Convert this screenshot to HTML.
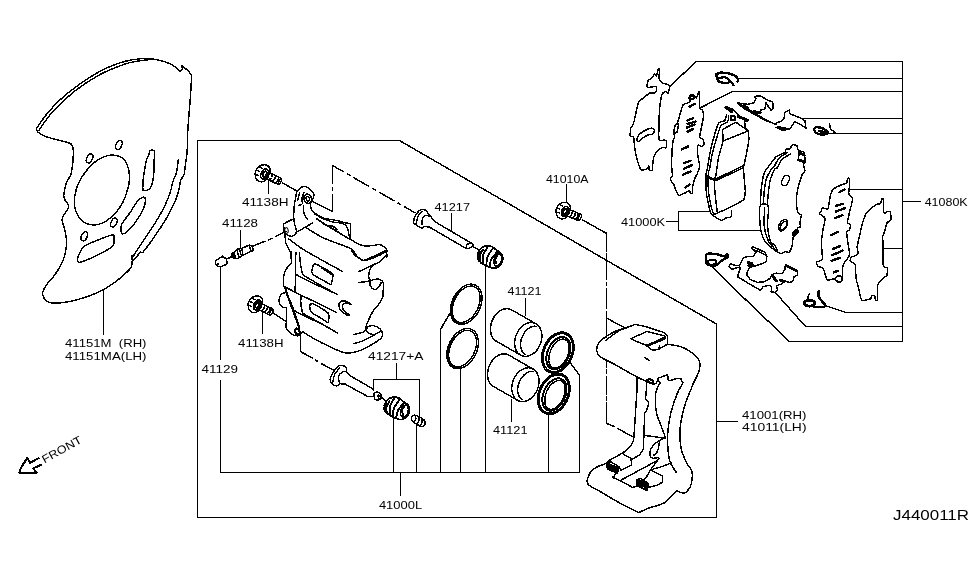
<!DOCTYPE html>
<html><head><meta charset="utf-8"><title>Front brake diagram</title>
<style>
html,body{margin:0;padding:0;background:#fff;}
body{width:975px;height:566px;overflow:hidden;font-family:"Liberation Sans",sans-serif;}
svg{display:block;position:absolute;left:0;top:0;will-change:transform}
svg text{font-family:"Liberation Sans",sans-serif;fill:#000;stroke:none;white-space:pre}
</style></head><body>
<svg width="975" height="566" viewBox="0 0 975 566">
<g shape-rendering="crispEdges" fill="none" stroke="#000" stroke-width="1.45" stroke-linecap="round" stroke-linejoin="round">
<text x="65" y="347" font-size="11.2" textLength="81.5" lengthAdjust="spacingAndGlyphs">41151M  (RH)</text>
<text x="65" y="360" font-size="11.2" textLength="81.5" lengthAdjust="spacingAndGlyphs">41151MA(LH)</text>
<text x="201.5" y="373" font-size="11.2" textLength="36.5" lengthAdjust="spacingAndGlyphs">41129</text>
<text x="242" y="205.6" font-size="11.2" textLength="46.5" lengthAdjust="spacingAndGlyphs">41138H</text>
<text x="222" y="226.8" font-size="11.2" textLength="36" lengthAdjust="spacingAndGlyphs">41128</text>
<text x="238" y="346.6" font-size="11.2" textLength="45.5" lengthAdjust="spacingAndGlyphs">41138H</text>
<text x="368" y="360" font-size="11.8" textLength="55.5" lengthAdjust="spacingAndGlyphs">41217+A</text>
<text x="378.9" y="509" font-size="11.2" textLength="43.3" lengthAdjust="spacingAndGlyphs">41000L</text>
<text x="434.5" y="211" font-size="11.2" textLength="35.5" lengthAdjust="spacingAndGlyphs">41217</text>
<text x="546" y="182.6" font-size="11.2" textLength="42.5" lengthAdjust="spacingAndGlyphs">41010A</text>
<text x="507.5" y="295" font-size="11.2" textLength="34" lengthAdjust="spacingAndGlyphs">41121</text>
<text x="493" y="434" font-size="11.2" textLength="34.5" lengthAdjust="spacingAndGlyphs">41121</text>
<text x="742" y="419" font-size="11.2" textLength="64.5" lengthAdjust="spacingAndGlyphs">41001(RH)</text>
<text x="742" y="431" font-size="11.2" textLength="64.5" lengthAdjust="spacingAndGlyphs">41011(LH)</text>
<text x="621" y="225.6" font-size="11.2" textLength="44" lengthAdjust="spacingAndGlyphs">41000K</text>
<text x="924.7" y="206" font-size="11.2" textLength="43" lengthAdjust="spacingAndGlyphs">41080K</text>
<text x="893" y="520" font-size="14.6" textLength="76" lengthAdjust="spacingAndGlyphs">J440011R</text>
<text transform="translate(44.6,463.4) rotate(-29)" x="0" y="0" font-size="11.2" textLength="43.5" lengthAdjust="spacingAndGlyphs">FRONT</text>
<path d="M38.7 458.2 L30 462.8 L27.4 457.7 L20.8 468 L19.2 472.6 L36.7 472.6 L33.1 468.5 L40.8 464.9" stroke-width="2"/>
<path d="M399.5 140.5 L197.5 140.5 L197.5 517.5 L716.5 517.5 L716.5 324 L399.5 140.5"/>
<path d="M716.5 421.5 L737 421.5"/>
<path d="M220.5 380.5 L220.5 472.5 L579.5 472.5 L579.5 375 L568.8 361"/>
<path d="M220.5 266.5 L220.5 359"/>
<path d="M393.5 417 L393.5 472.5"/>
<path d="M416.5 425 L416.5 472.5"/>
<path d="M400.5 472.5 L400.5 495"/>
<path d="M440.5 472.5 L440.5 329 L449.5 314"/>
<path d="M460.5 472.5 L460.5 367.5"/>
<path d="M485.5 472.5 L485.5 265"/>
<path d="M548.5 472.5 L548.5 415"/>
<path d="M396.5 364 L396.5 379.5"/>
<path d="M373.5 390 L373.5 379.5 L419.5 379.5 L419.5 418"/>
<path d="M103.5 290 L103.5 334"/>
<path d="M268.5 180.5 L268.5 193.5"/>
<path d="M240.5 231 L240.5 248"/>
<path d="M262.5 311.5 L262.5 333.5"/>
<path d="M451.5 214 L451.5 230"/>
<path d="M566.5 185 L566.5 202"/>
<path d="M525.5 299 L525.5 315"/>
<path d="M511.5 400 L511.5 421"/>
<path d="M667 221.5 L678.5 221.5"/>
<path d="M709.5 211.5 L678.5 211.5 L678.5 230.5 L760.5 230.5"/>
<path d="M669.5 87 L696 61.5 L902.5 61.5 L902.5 341.5 L789.5 341.5 L746 300 L711.5 266.3"/>
<path d="M737.5 78.5 L902.5 78.5"/>
<path d="M701 107.5 L732.5 91.5 L902.5 91.5"/>
<path d="M802.5 118.5 L902.5 118.5"/>
<path d="M836 133.5 L902.5 133.5"/>
<path d="M848.5 189.5 L902.5 189.5"/>
<path d="M883 248.5 L902.5 248.5"/>
<path d="M902.5 201.5 L920.5 201.5"/>
<path d="M825 305.5 L846 312.5 L902.5 312.5"/>
<path d="M775.4 292.6 L805.5 326.5 L902.5 326.5"/>
<path d="M36.3 128.8 C37.1 127.6 39 124.4 41.3 121.3 C43.6 118.2 46.5 114 50.1 110.1 C53.6 106.1 58.4 101.3 62.6 97.5 C66.7 93.8 70.9 90.7 75.1 87.5 C79.2 84.4 83.4 81.5 87.6 78.8 C91.8 76.1 95.9 73.5 100.1 71.3 C104.3 69.1 108.4 67.2 112.6 65.5 C116.8 63.8 120.5 62.4 125.1 61.3 C129.7 60.1 136 59.2 140.1 58.8 C144.3 58.3 146.8 58.5 150.2 58.8 C153.5 59.1 156.8 59.7 160.2 60.5 C163.5 61.3 167.5 62.5 170.2 63.8 C172.9 65 174.9 66.8 176.4 68 C177.9 69.2 178.7 70.5 179.2 71"/>
<path d="M178.2 69.5 L180.2 71.5 L182.7 69 L181.4 65.5"/>
<path d="M181.4 65.5 C182.4 66.3 185.5 68.4 187.2 70 C188.9 71.7 190.8 73.2 191.4 75.5 C192.1 77.8 191.4 79.7 191.2 83.8 C191 87.9 190.6 94.8 190.2 100.1 C189.8 105.3 189.4 109.6 188.9 115.1 C188.5 120.5 188 126.7 187.7 132.6 C187.4 138.4 187.5 145.1 187.2 150.1 C186.9 155.1 186.2 158.4 185.7 162.6 C185.1 166.8 184.8 172.2 183.9 175.1 C183.1 178 181.5 177.5 180.7 180 C179.8 182.5 179.8 186.5 178.9 190 C178 193.6 176.6 197.7 175.2 201.3 C173.7 204.8 172 207.7 170.2 211.3 C168.3 214.8 166.2 218.8 163.9 222.5 C161.6 226.3 158.9 230.1 156.4 233.8 C153.9 237.5 151.2 241.4 148.9 244.6 C146.6 247.7 143.7 251.2 142.6 252.6"/>
<path d="M142.6 252.6 L140.6 252.1 L132.1 261.6"/>
<path d="M132.1 255.1 C132 257 132.8 263.2 131.6 266.3 C130.5 269.5 127.5 271.5 125.1 273.8 C122.8 276.1 120.1 278.1 117.6 280.1 C115.1 282.1 112.6 283.9 110.1 285.6 C107.6 287.3 105.5 288.6 102.6 290.1 C99.7 291.6 95.9 293.3 92.6 294.6 C89.3 295.9 85.9 297.1 82.6 298.1 C79.2 299.2 76.3 300.1 72.6 300.9 C68.8 301.7 63.8 302.6 60.1 302.9 C56.3 303.2 52.5 303.1 50.1 302.6 C47.6 302.2 46.7 301.3 45.5 300.1 C44.4 299 43.5 297.1 43 295.6 C42.6 294.2 42.5 293.1 43 291.4 C43.6 289.6 44.7 287.4 46.3 285.1 C47.9 282.8 50.5 280.3 52.6 277.6 C54.6 274.9 57.1 271.8 58.8 268.8 C60.6 265.9 61.9 263 63.1 260.1 C64.2 257.2 65 254.2 65.6 251.3 C66.1 248.4 66.6 245.5 66.6 242.6 C66.6 239.6 66 236.5 65.6 233.8 C65.1 231.1 64.4 228.6 63.8 226.3 C63.2 224 62.1 221.9 62.1 220 C62.1 218.2 62.9 216.8 63.8 215 C64.7 213.3 66.8 211.2 67.6 209.5 C68.4 207.9 68.9 206.4 68.6 205 C68.2 203.6 66.4 202.7 65.6 201.3 C64.8 199.8 64 198.1 63.8 196.3 C63.6 194.4 64.1 192.4 64.6 190 C65 187.6 65.6 184.5 66.6 182 C67.6 179.5 69.6 177.9 70.6 175.1 C71.6 172.3 72.1 168.5 72.6 165.1 C73 161.8 73.2 157.9 73.3 155.1 C73.4 152.3 73.4 149.9 73.1 148.1 C72.7 146.3 72.2 145.1 71.1 144.1 C69.9 143.1 69 142.9 66.3 142.1 C63.6 141.3 58.8 140.4 55.1 139.3 C51.3 138.3 46.6 137 43.8 135.8 C41 134.6 39.3 133.2 38 132.1 C36.8 130.9 36.6 129.4 36.3 128.8"/>
<path d="M38.8 130.6 C41.1 127.5 46.5 118.4 52.6 111.8 C58.6 105.2 67.2 97 75.1 90.8 C83 84.6 91.8 79 100.1 74.5 C108.4 70.1 118.5 66.3 125.1 64 C131.8 61.7 135.6 61.6 140.1 60.8 C144.7 60 150.6 59.5 152.7 59.3"/>
<path d="M178.2 160.1 C177.9 162.2 177.2 169.3 176.4 172.6 C175.6 175.9 174.5 176.7 173.4 180 C172.4 183.3 171.5 188.3 170.2 192.5 C168.8 196.7 167.3 200.6 165.2 205 C163.1 209.4 160.4 214.2 157.7 218.8 C154.9 223.4 151.8 228.1 148.9 232.6 C146 237 142.6 241.8 140.1 245.6 C137.6 249.3 135.2 253 133.9 255.1 C132.5 257.2 132.4 257.6 132.1 258.1"/>
<path d="M112.6 155.1 C115.8 155.4 119.8 155.8 122.6 158.1 C125.5 160.4 126.9 163.6 128.1 167.6 C129.4 171.6 129.5 175.9 129.4 180 C129.2 184.1 128.5 186.1 127.4 190 C126.3 193.9 125.1 197.6 123.4 201.3 C121.6 204.9 120.2 207 117.9 210 C115.6 213 113.7 215.2 110.9 217.5 C108.1 219.9 106 221.7 102.6 223 C99.3 224.4 96.3 225.4 92.6 225 C88.9 224.7 85.6 223.6 82.6 221.3 C79.6 219 77.8 216 76.3 212.5 C74.8 209.1 74.4 206.7 74.3 202.5 C74.3 198.4 75 194.1 76.1 190 C77.1 185.9 78.4 183.2 80.1 180 C81.7 176.8 83.2 175.1 85.1 172.6 C86.9 170.1 87.8 168.7 90.1 166.4 C92.4 164.1 94.8 161.9 97.6 160.1 C100.4 158.3 102.4 157.3 105.1 156.4 C107.9 155.4 109.4 154.8 112.6 155.1 Z"/>
<ellipse cx="118.9" cy="145" rx="2.8" ry="4.8" transform="rotate(25 118.9 145)"/>
<ellipse cx="89.6" cy="158.4" rx="2.8" ry="4.8" transform="rotate(25 89.6 158.4)"/>
<ellipse cx="113.9" cy="222.5" rx="2.8" ry="4.8" transform="rotate(25 113.9 222.5)"/>
<ellipse cx="84.3" cy="236.3" rx="2.8" ry="4.8" transform="rotate(25 84.3 236.3)"/>
<path d="M150.2 150.4 C150.8 150 153.9 150 154.4 151.1 C154.9 152.2 154.2 157.3 154.2 160.1 C154.1 162.9 153.9 172.4 153.7 175.1 C153.4 177.9 152.6 181.9 152.2 183.5 C151.7 185.1 150.7 188.2 149.6 189 C148.6 189.8 143.9 191.5 143.1 190.5 C142.4 189.5 143 182.5 143.1 180.1 C143.3 177.8 144.3 172.5 144.6 170.1 C145 167.8 145.9 162 146.4 160.1 C146.9 158.2 148.7 155 149.1 153.9 C149.6 152.7 149.5 150.7 150.2 150.4 Z"/>
<path d="M140.1 198.8 C141.3 197.9 143.1 196.6 143.9 197 C144.7 197.4 146.2 198.6 145.6 201.3 C145.1 204 142.5 210.9 140.1 215 C137.8 219.2 132.8 226 130.1 228.8 C127.4 231.6 123.4 234.4 122.1 233.8 C120.8 233.2 120.2 228.2 121.4 225 C122.6 221.9 127.9 215.9 130.1 212.5 C132.4 209.2 134.9 204.6 136.4 202.5 C137.9 200.5 139 199.6 140.1 198.8 Z"/>
<path d="M85.1 245.6 C89.3 243.2 107.5 236 111.4 235.1 C115.2 234.2 113.6 237.4 113.9 238.8 C114.1 240.2 114.9 243.6 113.1 245.6 C111.3 247.6 104.4 251.6 100.1 253.8 C95.8 256 83.6 261.3 80.6 262.1 C77.6 262.8 77.6 260.8 77.6 259.6 C77.5 258.3 79.1 254.4 80.1 252.6 C81.1 250.7 80.9 247.9 85.1 245.6 Z"/>
<path d="M296.9 191.2 C297.9 190.4 301.2 187 303.1 186.5 C304.9 185.9 306.4 186.8 308.1 187.9 C309.8 189 312.1 191.5 313.1 192.9 C314.1 194.4 314.1 195.1 313.8 196.5 C313.6 197.9 312 200.5 311.7 201.3"/>
<path d="M296.9 191.2 C296.6 192.4 295.9 196 295.4 198.7 C295 201.3 294.4 204.4 294.1 207.3 C293.9 210.2 293.7 213.5 293.7 215.9 C293.7 218.3 293.8 219.5 294.1 221.6 C294.5 223.8 295.4 227.1 295.9 228.8 C296.3 230.5 296.7 231.5 296.9 232"/>
<path d="M299.5 193.2 L297.7 200.1"/>
<path d="M304.1 192.6 C303.7 193.6 302 196.8 301.8 198.7 C301.5 200.5 302.8 202.6 302.3 203.7 C301.9 204.8 299.5 205 298.9 205.3"/>
<ellipse cx="307.8" cy="198.7" rx="3.7" ry="4.7" transform="rotate(-20 307.8 198.7)"/>
<ellipse cx="307.8" cy="198.7" rx="1.7" ry="2.4" transform="rotate(-20 307.8 198.7)"/>
<path d="M311.7 201.3 L332.5 211.3"/>
<path d="M311 201.5 C310.9 202.5 310.2 205.5 310.7 207.3 C311.1 209.1 311.9 210.6 313.8 212.3 C315.8 214 320 216.5 322.4 217.6 C324.8 218.7 325.8 218.6 328.2 219.1 C330.6 219.5 333.9 219.9 336.8 220.5 C339.7 221.1 343.1 222.2 345.4 222.8 C347.7 223.3 349.8 223.6 350.7 223.8"/>
<path d="M350.7 223.8 L350.7 239.6"/>
<path d="M303.8 205.8 C303.7 206.7 303.2 209.2 303.5 210.9 C303.7 212.5 304.5 214.5 305.2 215.9 C305.9 217.3 307.2 218.8 307.6 219.3"/>
<path d="M314.5 213.7 C315.9 214.5 319.4 217.1 322.4 218.5 C325.4 219.8 329.1 221.1 332.5 221.9 C335.8 222.7 340.1 222.5 342.5 223.4 C345 224.3 346 225 347.1 227.4 C348.3 229.7 349.1 235.8 349.4 237.4"/>
<path d="M316.7 218.8 C318.1 219.7 322.4 222.7 325.3 224.5 C328.2 226.3 331.5 228.1 333.9 229.5 C336.3 231 338.7 232.5 339.7 233.1" stroke-width="1.9"/>
<path d="M326.7 225.7 C327.7 225.8 330.7 225.6 332.5 226.2 C334.3 226.9 336.7 229 337.5 229.5" stroke-width="1.5"/>
<path d="M322.4 223.1 C324.1 224 328.7 226.5 332.5 228.8 C336.3 231.1 342.4 234.9 345.4 236.7 C348.5 238.5 349.8 239.1 350.7 239.6"/>
<path d="M294.1 221.6 C294.1 221.5 293.7 218.9 293 219.1 C292.3 219.2 284.3 223.5 283.7 223.8"/>
<path d="M283.7 223.8 C283.8 224.9 283.7 230.8 284.4 232.4 C285.1 234 287.5 235.2 288.7 235.7 C289.8 236.2 291.9 236.5 293 236 C294.1 235.5 296.4 232.5 296.9 232"/>
<ellipse cx="286.5" cy="230.5" rx="1.7" ry="2.9" transform="rotate(-10 286.5 230.5)" stroke-width="1"/>
<path d="M296.9 232 L312.4 223.1"/>
<path d="M306.6 228.1 C309.3 229.7 317.4 234.9 322.4 237.4 C327.5 240 332 241.3 336.8 243.2 C341.6 245.1 347.8 246.8 351.2 248.9 C354.5 251.1 355 254.2 356.9 256.1 C358.8 258 361.7 259.7 362.6 260.4"/>
<path d="M350.7 239.6 C352.2 240.4 357.3 243.5 359.8 244.6 C362.2 245.7 363.1 245.9 365.5 246.1 C367.9 246.2 371.7 245.6 374.1 245.3 C376.5 245.1 378.1 244.3 379.9 244.6 C381.7 245 383.8 246.5 384.9 247.5 C386.1 248.4 386.5 248.7 386.8 250.4 C387 252 386.3 256.9 386.3 257.5 C386.3 258.2 387.8 253.7 386.8 254.3 C385.7 255 382.2 259.7 379.9 261.5 C377.5 263.3 376.2 263.4 372.7 265.1 C369.2 266.8 361.3 270.5 359.1 271.5"/>
<path d="M364.1 260.4 C365.8 259.7 370.4 257.8 374.1 256.1 C377.8 254.4 384.3 251.3 386.3 250.4"/>
<path d="M285.1 234.6 C285.2 236 285 240.3 285.8 243.2 C286.7 246.1 289.3 249.5 290.1 251.8 C291 254.1 290.6 255.3 290.8 257.2 C291.1 259 292.3 261 291.6 262.9 C290.8 264.8 287.9 266.5 286.5 268.7 C285.2 270.8 284.2 273 283.7 275.8 C283.1 278.7 283.4 284.2 283.4 285.9"/>
<path d="M288.7 238.9 C291 240.5 296.7 245.3 302.3 248.9 C308 252.5 315.7 256.6 322.4 260.4 C329.1 264.2 339.2 269.7 342.5 271.5"/>
<path d="M291.6 251.8 L291.6 262.9"/>
<path d="M295.9 252.5 L295.4 267.2 L295.2 291.6"/>
<path d="M299.5 253.2 C299.6 254.6 299.8 258.7 300.2 261.5 C300.5 264.3 301.1 267.8 301.6 270.1 C302.1 272.4 302.8 274.3 303.1 275.1"/>
<path d="M303.1 275.1 L325.3 288.1 L337.5 294.5"/>
<path d="M295.9 274.4 L302.3 278 L322.4 287.6 L336.8 294.2"/>
<path d="M313.8 264.4 C314.5 263.7 316.3 264.1 318.1 265.1 C320 266 331.1 272 332.5 273.7 C333.9 275.4 332 281.2 331.8 282.3 C331.6 283.4 331 284.5 330.3 284.5 C329.7 284.4 327 282.5 325.3 281.6 C323.7 280.7 315.2 276.1 313.8 275.1 C312.5 274.1 311.7 272.6 311.7 271.5 C311.7 270.5 313.2 265 313.8 264.4 Z"/>
<path d="M322.4 267.9 L332.5 274.4" stroke-width="2.5"/>
<path d="M351.2 250 C351.9 251 353.6 254.1 355.5 255.7 C357.4 257.4 360.3 259.5 362.6 260.1 C365 260.7 367 260.2 369.8 259.3 C372.7 258.5 377.1 256.3 379.9 255 C382.6 253.7 385.3 252 386.3 251.4"/>
<path d="M372.7 265.1 C372.2 265.9 370.5 268.2 369.8 270.1 C369.2 272 368.6 274.8 368.7 276.6 C368.8 278.4 370.2 280.2 370.5 280.9"/>
<path d="M370.5 280.9 L358.3 282.7"/>
<path d="M370.5 280.9 C371.1 280.6 372.6 279.7 374.1 279.4 C375.7 279.2 378.3 278.8 379.9 279.4 C381.4 280 382.9 281 383.5 283 C384 285.1 383.2 289.2 383 291.6 C382.9 294 383.5 295.2 382.7 297.4 C382 299.5 380.1 302.2 378.4 304.6 C376.8 307 374.4 309.1 372.7 311.7 C371 314.4 369.5 318 368.4 320.4 C367.3 322.8 366.6 324.6 366.2 326.1 C365.9 327.6 365.9 328.2 366.2 329.4 C366.6 330.5 367.4 332.1 368.4 333 C369.3 333.8 371.4 334.2 372 334.4"/>
<path d="M370.5 280.9 C370.4 281.5 369.6 283.3 369.8 284.5 C370.1 285.7 371 287.2 372 288.1 C372.9 288.9 374.3 290 375.6 289.5 C376.9 289 378.9 286.4 379.9 285.2 C380.8 284 381.1 282.8 381.3 282.3"/>
<path d="M283.4 285.9 L284.4 286.6 L300.9 295.2 L322.4 305.3 L336.8 312.5"/>
<path d="M300.9 295.2 C300.9 296.8 300.6 301.6 300.9 304.6 C301.2 307.6 302.3 311.7 302.6 313.2"/>
<path d="M302.6 313.2 L328.2 327.5 L337.5 333"/>
<path d="M285.1 288.1 L290.8 304.6 L299.5 328.3" stroke-width="2"/>
<path d="M286.5 293.1 L293.7 310.3 L299.5 328.3" stroke-width="2"/>
<path d="M286.5 292.4 C285.7 292.6 283.7 292.8 282.2 293.8 C280.8 294.8 279.9 295.4 279.4 297.4 C278.8 299.4 278.8 301.8 279.6 303.8 C280.5 305.9 282 306.7 283.4 307.4 C284.8 308.2 285.9 307.4 286.5 307.4"/>
<path d="M286.5 307.4 L286.5 316.1 L286.3 322.9 L285.8 327.2"/>
<path d="M310.2 304.6 C310.7 304 312.7 303.4 314.5 304.3 C316.3 305.1 326.8 311.4 328.2 313.2 C329.5 315 328.8 321.9 328.2 322.5 C327.6 323.1 324 319.9 322.4 318.9 C320.9 318 313.6 314.1 312.4 313.2 C311.2 312.2 310.4 310.5 310.2 309.6 C310 308.7 309.8 305.1 310.2 304.6 Z"/>
<path d="M351.2 304.3 C350.1 303.7 346.5 301.4 344.7 301 C342.9 300.5 341.3 300.9 340.4 301.7 C339.4 302.5 338.8 304.4 339 306 C339.1 307.6 339.9 309.6 341.1 311 C342.3 312.5 344.8 313.9 346.1 314.6 C347.4 315.3 348.5 315.2 349 315.3"/>
<path d="M351.2 304.3 C350.2 304.1 346.8 303 345.4 303.1 C344 303.3 342.9 304.2 342.5 305.3 C342.2 306.4 342.2 308 343.3 309.6 C344.3 311.1 348 313.8 349 314.6"/>
<path d="M285.8 327.2 C286.3 327.9 287.4 330.2 288.7 331.5 C290 332.9 292 334.5 293.7 335.1 C295.4 335.8 297.3 336 298.7 335.6 C300.2 335.1 301.7 332.8 302.3 332.3"/>
<ellipse cx="297.3" cy="331.5" rx="2.2" ry="3" transform="rotate(-20 297.3 331.5)" stroke-width="2.2"/>
<path d="M302.3 331.5 C304.5 332.9 310.7 336.9 315.3 339.4 C319.8 342 325.3 344.6 329.6 346.6 C333.9 348.7 338.1 350.6 341.1 351.6 C344.1 352.7 344.9 353.1 347.6 353.1 C350.2 353.1 353.9 352.5 356.9 351.6 C359.9 350.8 362.4 349.6 365.5 348.1 C368.6 346.5 372.9 344 375.6 342.3 C378.2 340.6 380.2 339.4 381.3 338 C382.5 336.6 382.7 335.2 382.5 333.7 C382.2 332.1 381.3 330 379.9 328.7 C378.5 327.4 376 326.2 374.1 325.8 C372.2 325.4 369.7 325.9 368.4 326.5 C367.1 327.1 366.6 328.9 366.2 329.4"/>
<path d="M354 334.4 C355.5 334.1 360.6 333 362.6 332.3 C364.7 331.5 365.6 330.5 366.2 330.1"/>
<path d="M354 343.7 C355.5 343.3 359.5 342.2 362.6 340.9 C365.8 339.6 369.8 337.4 372.7 335.8 C375.6 334.3 378.7 332.3 379.9 331.5"/>
<path d="M293.7 310 L299.5 313.6 L322.4 324.4 L337.5 333"/>
<path d="M332.5 165.5 L332.5 212" stroke-linecap="butt" stroke-dasharray="18 3 4.5 3"/>
<path d="M332.5 165.5 L415.4 213" stroke-linecap="butt" stroke-dasharray="18 3.5 4.2 3.5" stroke-dashoffset="5"/>
<path d="M300.5 335.8 L300.5 351.6 L312.4 358.1"/>
<path d="M315.3 360 L317.4 361.3"/>
<path d="M321.7 363.8 L334 370.3"/>
<path d="M265 164.8 C266.6 164.9 268.7 166.3 269.4 167.4 C270.2 168.5 270.3 170.6 269.9 172.4 C269.4 174.2 267.7 177.9 266.5 179.3 C265.3 180.8 263.2 181.7 261.8 181.8 C260.4 181.9 258 181.1 257 180 C256 178.9 255.2 175.8 255.1 174.3 C254.9 172.8 255.6 171.2 256.2 170 C256.7 168.9 257.5 167.3 258.8 166.5 C260.2 165.7 263.4 164.6 265 164.8 Z"/>
<path d="M258.8 166.5 L262 168.5"/>
<path d="M256.2 170 L259.2 171.5"/>
<path d="M255.1 174.3 L258.6 175.5"/>
<ellipse cx="264.6" cy="174.1" rx="3.5" ry="5.3" transform="rotate(25.9 264.6 174.1)" stroke-width="1.8"/>
<ellipse cx="264.6" cy="174.1" rx="1.7" ry="2.9" transform="rotate(25.9 264.6 174.1)" stroke-width="1.9"/>
<path d="M268.9 172.4 L281.4 178.5"/>
<path d="M265.4 178.3 L278.4 184.6"/>
<ellipse cx="279.9" cy="181.6" rx="1.1" ry="3.4" transform="rotate(25.9 279.9 181.6)"/>
<path d="M268.8 180 C269.3 179.5 270.9 178.5 271.5 177.5 C272 176.5 272.1 174.6 272.2 174"/>
<path d="M272 181.5 C272.5 181.1 274.1 180 274.7 179 C275.2 178 275.3 176.2 275.4 175.6"/>
<path d="M275.2 183.1 C275.7 182.7 277.3 181.6 277.9 180.6 C278.5 179.6 278.5 177.7 278.6 177.1"/>
<path d="M282.5 182.8 L296.8 191"/>
<path d="M257.8 296 C259.4 296.1 261.4 297.4 262.1 298.6 C262.8 299.7 262.9 301.7 262.5 303.4 C262 305.2 260.3 308.8 259.1 310.2 C257.9 311.6 255.9 312.5 254.5 312.6 C253.2 312.7 250.9 311.9 249.9 310.8 C248.9 309.7 248.1 306.6 248 305.2 C247.9 303.7 248.6 302.2 249.1 301.1 C249.7 299.9 250.4 298.4 251.7 297.7 C253 296.9 256.3 295.8 257.8 296 Z"/>
<path d="M251.7 297.7 L254.8 299.6"/>
<path d="M249.1 301.1 L252.1 302.5"/>
<path d="M248 305.2 L251.4 306.4"/>
<ellipse cx="257.3" cy="305.1" rx="3.4" ry="5.2" transform="rotate(26.3 257.3 305.1)" stroke-width="1.8"/>
<ellipse cx="257.3" cy="305.1" rx="1.7" ry="2.9" transform="rotate(26.3 257.3 305.1)" stroke-width="1.9"/>
<path d="M261.6 303.4 L272.9 309"/>
<path d="M258.1 309.3 L269.9 315.1"/>
<ellipse cx="271.4" cy="312.1" rx="1.1" ry="3.4" transform="rotate(26.3 271.4 312.1)"/>
<path d="M261.2 310.8 C261.7 310.4 263.3 309.3 263.9 308.3 C264.5 307.4 264.5 305.5 264.6 304.9"/>
<path d="M264 312.2 C264.5 311.8 266.2 310.7 266.7 309.7 C267.3 308.8 267.3 306.9 267.4 306.3"/>
<path d="M266.9 313.6 C267.3 313.2 269 312.1 269.6 311.1 C270.1 310.2 270.1 308.3 270.3 307.7"/>
<path d="M273.5 313.2 L286 321.4"/>
<path d="M565.2 202.3 C566.7 202.3 568.8 203.5 569.6 204.6 C570.3 205.7 570.5 207.6 570.2 209.4 C569.8 211.1 568.3 214.8 567.2 216.2 C566.1 217.7 564.1 218.7 562.8 218.8 C561.4 219 559.1 218.3 558.1 217.3 C557.1 216.2 556.2 213.2 556 211.8 C555.8 210.4 556.4 208.8 556.9 207.7 C557.4 206.5 558 205 559.3 204.2 C560.5 203.4 563.7 202.2 565.2 202.3 Z"/>
<path d="M559.3 204.2 L562.4 206"/>
<path d="M556.9 207.7 L559.9 209"/>
<path d="M556 211.8 L559.4 212.9"/>
<ellipse cx="565.2" cy="211.3" rx="3.4" ry="5.1" transform="rotate(23.5 565.2 211.3)" stroke-width="1.8"/>
<ellipse cx="565.2" cy="211.3" rx="1.6" ry="2.8" transform="rotate(23.5 565.2 211.3)" stroke-width="1.9"/>
<path d="M569.3 209.4 L581 214.5"/>
<path d="M566.1 215.4 L578.3 220.7"/>
<ellipse cx="579.7" cy="217.6" rx="1.1" ry="3.4" transform="rotate(23.5 579.7 217.6)"/>
<path d="M569.3 216.8 C569.7 216.4 571.3 215.2 571.8 214.2 C572.4 213.2 572.3 211.3 572.4 210.7"/>
<path d="M572.3 218.1 C572.7 217.6 574.3 216.5 574.8 215.5 C575.3 214.5 575.2 212.6 575.3 212"/>
<path d="M575.2 219.4 C575.6 218.9 577.3 217.8 577.8 216.8 C578.3 215.8 578.2 213.9 578.3 213.3"/>
<path d="M582.2 219.7 L606.5 233.4"/>
<ellipse cx="233.7" cy="255.8" rx="1" ry="2.6" transform="rotate(-23 233.7 255.8)" stroke-width="2.2"/>
<path d="M233.2 252.9 L237.8 249.1 L241.9 248.4 L249.1 245.1 L252 245.5"/>
<path d="M234.7 258.4 L238 258.3 L242.4 255.5 L250.8 251.4"/>
<path d="M237 249.9 L238.8 257.8"/>
<path d="M239.5 249.4 L241.5 256.1"/>
<path d="M241.9 248.4 L242.7 254.9"/>
<ellipse cx="251.4" cy="248.3" rx="1.3" ry="3" transform="rotate(-23 251.4 248.3)"/>
<path d="M227.1 258.8 L232.5 256.4"/>
<path d="M253.2 246 L265 241.2"/>
<path d="M268.3 240.2 L271.9 238.3"/>
<path d="M275.6 236.3 L286 231.2"/>
<path d="M215.3 262.9 C215.2 262.4 215.5 261.1 216.3 260.4 C217.1 259.7 220.8 257.2 221.9 257 C223.1 256.8 225.5 258 226 258.8 C226.6 259.7 227.4 263.1 226.7 264 C226.1 264.9 221.5 266.4 220.4 266.5 C219.2 266.7 217.4 265.9 216.8 265.5 C216.2 265.1 215.3 263.5 215.3 262.9 Z"/>
<path d="M221.9 256.8 L222.6 255.8 L223.7 257.4"/>
<path d="M217.5 263.6 L218.1 264" stroke-width="2"/>
<path d="M423.7 226.5 C423.4 226.7 422.6 228.2 422 228.2 C421.3 228.2 419.5 227.1 418.6 226.5 C417.6 225.9 415.3 224.3 414.6 223.7 C413.9 223.1 413.4 222.9 413.5 222 C413.6 221 414.4 217.8 415.2 216.3 C415.9 214.8 418.2 211.6 419.1 210.7 C420.1 209.7 421.7 209.4 422.5 209.3 C423.4 209.2 425 210 425.4 210.1"/>
<path d="M416.3 223.1 C416.6 222 417.1 218.3 418 216.3 C418.9 214.3 421.3 212.1 422 211.2"/>
<path d="M425.4 210.1 C425.9 210.7 428.1 213.1 429.3 214.6 C430.5 216.1 433.7 220.5 434.4 221.4"/>
<path d="M434.4 221.4 L471.7 243.4"/>
<path d="M422 224.8 C422.1 223.7 421.9 220.1 422.5 218.6 C423.2 217 424.8 215.8 425.9 215.4 C427 215 428.7 216.2 429.3 216.3"/>
<path d="M423.7 226.5 L429.3 227 L466.1 248.5 L468.3 248.5"/>
<path d="M468.3 248.5 C468.9 248.2 472.3 246.6 472.8 245.9 C473.4 245.2 472.6 243.8 472.3 243.4 C471.9 243.1 470.7 243 470 243.2 C469.3 243.4 467.4 244.2 467 244.8 C466.5 245.4 466.7 247.5 466.6 248"/>
<path d="M472.8 246.8 L479.1 249.7"/>
<path d="M339.7 383.7 C339.2 384 337.4 385.9 336.3 385.9 C335.3 385.9 332.6 384.5 331.8 383.7 C331 382.8 329.9 381.1 330.1 379.7 C330.2 378.3 331.9 374.6 332.9 372.9 C333.9 371.2 336.2 367.7 337.4 366.7 C338.6 365.7 340.8 365.5 342 365.6 C343.1 365.6 345.3 366.5 345.9 367.3 C346.5 368 346.4 370.7 346.5 371.2"/>
<path d="M332.9 382 C333.2 380.7 333.5 377 334.6 374.6 C335.7 372.3 338.8 369 339.7 367.8"/>
<path d="M339.1 382 C339.1 381.2 338.2 377.6 338.6 376.3 C338.9 375 340.9 373 342 372.3 C343 371.7 345.3 371.3 346.5 371.8 C347.7 372.3 350.4 375.7 351 376.3"/>
<path d="M351 376.3 L373.6 389.3"/>
<path d="M339.7 383.7 L345.4 384.2 L368 396.7 L373.6 396.7"/>
<path d="M374.2 393.3 C374.6 392.4 377.2 391.9 378.1 392.1 C379 392.4 380.6 394.1 381 395 C381.3 395.8 381.4 397.7 381 398.4 C380.5 399 378.4 400 377.6 400 C376.7 400.1 375.2 399.8 374.7 398.9 C374.3 398 373.7 394.2 374.2 393.3 Z"/>
<ellipse cx="379.5" cy="397.2" rx="1" ry="2.4" transform="rotate(-25 379.5 397.2)"/>
<path d="M381 397.2 L386.6 401.7"/>
<path d="M478.2 252.6 C478.9 251 480.4 248.9 481.8 247.8 C483.2 246.7 485.2 246 486.9 245.8 C488.6 245.6 490.3 245.9 491.9 246.6 C493.5 247.3 494.8 248.8 496.4 250 C498 251.2 500.5 252.5 501.6 254 C502.6 255.5 502.8 257.5 502.7 259.1 C502.6 260.8 502.2 262.5 501.3 263.9 C500.4 265.3 498.5 266.8 497.1 267.5 C495.7 268.2 494.7 268.4 493.1 268.2 C491.5 268 489.2 267 487.5 266.2 C485.8 265.4 484.1 264.5 482.7 263.6 C481.3 262.7 479.8 261.8 479 260.8 C478.2 259.8 478 258.9 477.9 257.5 C477.8 256.1 477.5 254.2 478.2 252.6 Z" stroke-width="1.8"/>
<path d="M480.7 262.7 C480.5 261.6 479.3 258.1 479.7 256 C480.1 253.8 482.4 250.8 483 249.8" stroke-width="1.9"/>
<path d="M483.6 264 C483.5 262.5 482.5 257.8 483.2 255 C483.9 252.2 486.8 248.7 487.5 247.4" stroke-width="1.9"/>
<path d="M486.4 265 C486.6 263.7 486.3 259.8 487.4 257 C488.5 254.2 491.9 249.8 492.8 248.4" stroke-width="1.9"/>
<path d="M489.7 266 C490 264.8 490.1 261.3 491.4 259 C492.6 256.7 496.2 253.2 497.2 252" stroke-width="1.9"/>
<ellipse cx="497.8" cy="260" rx="3.7" ry="6.2" transform="rotate(18 497.8 260)" stroke-width="1.6"/>
<path d="M496.5 263.5 C496.3 262.8 495.1 260.8 495.2 259.5 C495.3 258.2 497 256.2 497.4 255.5" stroke-width="1.9"/>
<path d="M479.6 252 C479.3 252.8 477.7 255.5 477.6 257 C477.5 258.5 478.9 260.3 479.2 261" stroke-width="2.2"/>
<path d="M384.8 403.9 C385.5 402.3 387 400.2 388.4 399.1 C389.9 398 391.8 397.3 393.5 397.1 C395.2 396.9 396.9 397.2 398.5 397.9 C400.1 398.6 401.4 400.1 403 401.3 C404.6 402.5 407.1 403.8 408.2 405.3 C409.2 406.8 409.4 408.8 409.3 410.4 C409.2 412.1 408.8 413.8 407.9 415.2 C407 416.6 405.1 418.1 403.7 418.8 C402.3 419.5 401.3 419.7 399.7 419.5 C398.1 419.3 395.8 418.3 394.1 417.5 C392.4 416.7 390.7 415.8 389.3 414.9 C387.9 414 386.4 413.1 385.6 412.1 C384.8 411.1 384.6 410.2 384.5 408.8 C384.4 407.4 384.1 405.5 384.8 403.9 Z" stroke-width="1.8"/>
<path d="M387.3 414 C387.1 412.9 385.9 409.4 386.3 407.3 C386.7 405.2 389.1 402.1 389.6 401.1" stroke-width="1.9"/>
<path d="M390.2 415.3 C390.1 413.8 389.1 409.1 389.8 406.3 C390.5 403.5 393.4 400 394.1 398.7" stroke-width="1.9"/>
<path d="M393 416.3 C393.2 415 392.9 411.1 394 408.3 C395.1 405.5 398.5 401.1 399.4 399.7" stroke-width="1.9"/>
<path d="M396.3 417.3 C396.6 416.1 396.8 412.6 398 410.3 C399.2 408 402.8 404.5 403.8 403.3" stroke-width="1.9"/>
<ellipse cx="404.4" cy="411.3" rx="3.7" ry="6.2" transform="rotate(18 404.4 411.3)" stroke-width="1.6"/>
<path d="M403.1 414.8 C402.9 414.1 401.7 412.1 401.8 410.8 C401.9 409.5 403.6 407.5 404 406.8" stroke-width="1.9"/>
<path d="M386.2 403.3 C385.9 404.1 384.3 406.8 384.2 408.3 C384.1 409.8 385.5 411.6 385.8 412.3" stroke-width="2.2"/>
<path d="M411.5 418.1 C411.6 417.3 413 415.6 413.8 415.3 C414.5 415 415.7 415.2 417.1 415.9 C418.6 416.6 423.4 419.3 424.5 420.4 C425.5 421.5 425.3 423 425.1 423.8 C424.8 424.6 423.5 426.3 422.8 426.6 C422.1 426.9 421.3 426.7 420 426.1 C418.6 425.4 413.8 422.6 412.6 421.5 C411.5 420.5 411.3 419 411.5 418.1 Z"/>
<path d="M415.4 415.9 C415.5 416.4 416 417.9 415.8 419 C415.6 420 414.6 421.6 414.3 422.1"/>
<path d="M418.8 417.6 C418.8 418.1 419.2 419.6 418.9 420.7 C418.6 421.7 417.4 423.3 417.1 423.8"/>
<path d="M422 419.3 C422 419.8 422.4 421.3 422.2 422.4 C421.9 423.4 420.8 425 420.5 425.5"/>
<ellipse cx="466.2" cy="304.3" rx="14.2" ry="21.3" transform="rotate(26 466.2 304.3)"/>
<ellipse cx="466.2" cy="304.3" rx="12.3" ry="19.4" transform="rotate(26 466.2 304.3)"/>
<path d="M464.4 323 L463.2 323.3 L462.1 323.4 L460.9 323.4 L459.8 323.3 L458.7 323.1 L457.7 322.7 L456.8 322.3 L455.9 321.7 L455 320.9 L454.3 320.1 L453.6 319.2 L453 318.2 L452.5 317 L452.1 315.8 L451.8 314.6 L451.5 313.2 L451.4 311.8 L451.4 310.3 L451.4 308.8 L451.6 307.3 L451.9 305.8 L452.2 304.2 L452.7 302.7 L453.2 301.1 L453.8 299.6 L454.5 298.1 L455.3 296.6 L456.2 295.2 L457.1 293.9 L458.1 292.6" stroke-width="2"/>
<ellipse cx="462.6" cy="348.6" rx="14.2" ry="21.3" transform="rotate(26 462.6 348.6)"/>
<ellipse cx="462.6" cy="348.6" rx="12.3" ry="19.4" transform="rotate(26 462.6 348.6)"/>
<path d="M460.8 367.3 L459.6 367.6 L458.5 367.7 L457.3 367.7 L456.2 367.6 L455.1 367.4 L454.1 367 L453.2 366.6 L452.3 366 L451.4 365.2 L450.7 364.4 L450 363.5 L449.4 362.5 L448.9 361.3 L448.5 360.1 L448.2 358.9 L447.9 357.5 L447.8 356.1 L447.8 354.6 L447.8 353.1 L448 351.6 L448.3 350.1 L448.6 348.5 L449.1 347 L449.6 345.4 L450.2 343.9 L450.9 342.4 L451.7 340.9 L452.6 339.5 L453.5 338.2 L454.5 336.9" stroke-width="2"/>
<path d="M450.1 313.3 L440.8 329"/>
<ellipse cx="528.3" cy="339.5" rx="12.9" ry="17.5" transform="rotate(22 528.3 339.5)"/>
<path d="M525.1 354.3 L524.2 353.7 L523.5 353 L522.8 352.2 L522.2 351.3 L521.7 350.3 L521.2 349.2 L520.9 348 L520.7 346.7 L520.6 345.4 L520.6 344 L520.7 342.6 L520.9 341.2 L521.2 339.7 L521.7 338.3 L522.2 336.9 L522.8 335.6 L523.5 334.3 L524.2 333 L525.1 331.8 L526 330.8 L526.9 329.8 L527.9 328.9 L529 328.1 L530 327.5 L531.1 327 L532.2 326.6 L533.2 326.3 L534.3 326.2 L535.3 326.3 L536.3 326.5"/>
<path d="M536.1 323.9 L511.9 310"/>
<path d="M520.5 355.1 L496.3 341.2"/>
<path d="M511.9 310 L511.7 309.9 L511.5 309.8 L511.3 309.6 L511.1 309.6 L510.9 309.5 L510.7 309.4 L510.4 309.3 L510.2 309.2 L510 309.1 L509.8 309.1 L509.6 309 L509.4 309 L509.1 308.9 L508.9 308.9 L508.7 308.8 L508.5 308.8 L508.3 308.8 L508 308.7 L507.8 308.7 L507.6 308.7 L507.3 308.7 L507.1 308.7 L506.9 308.7 L506.6 308.7 L506.4 308.7 L506.2 308.7 L505.9 308.7 L505.7 308.7 L505.5 308.8 L505.2 308.8 L505 308.9 L504.7 308.9 L504.5 308.9 L504.3 309 L504 309.1 L503.8 309.1 L503.6 309.2 L503.3 309.3 L503.1 309.4 L502.8 309.4 L502.6 309.5 L502.4 309.6 L502.1 309.7 L501.9 309.8 L501.7 309.9 L501.4 310.1 L501.2 310.2 L501 310.3 L500.7 310.4 L500.5 310.6 L500.3 310.7 L500.1 310.9 L499.8 311 L499.6 311.2 L499.4 311.3 L499.2 311.5 L498.9 311.6 L498.7 311.8 L498.5 312 L498.3 312.2 L498.1 312.3 L497.9 312.5 L497.6 312.7 L497.4 312.9 L497.2 313.1 L497 313.3 L496.8 313.5 L496.6 313.7 L496.4 313.9 L496.2 314.1 L496 314.4 L495.8 314.6 L495.7 314.8 L495.5 315 L495.3 315.3 L495.1 315.5 L494.9 315.7 L494.8 316 L494.6 316.2 L494.4 316.5 L494.2 316.7 L494.1 317 L493.9 317.2 L493.8 317.5 L493.6 317.8 L493.5 318 L493.3 318.3 L493.2 318.6 L493 318.8 L492.9 319.1 L492.8 319.4 L492.6 319.6 L492.5 319.9 L492.4 320.2 L492.3 320.5 L492.1 320.8 L492 321.1 L491.9 321.3 L491.8 321.6 L491.7 321.9 L491.6 322.2 L491.5 322.5 L491.4 322.8 L491.3 323.1 L491.3 323.4 L491.2 323.7 L491.1 324 L491 324.2 L491 324.5 L490.9 324.8 L490.9 325.1 L490.8 325.4 L490.7 325.7 L490.7 326 L490.7 326.3 L490.6 326.6 L490.6 326.9 L490.6 327.2 L490.5 327.5 L490.5 327.8 L490.5 328.1 L490.5 328.4 L490.5 328.7 L490.5 329 L490.5 329.2 L490.5 329.5 L490.5 329.8 L490.5 330.1 L490.5 330.4 L490.5 330.7 L490.5 330.9 L490.6 331.2 L490.6 331.5 L490.6 331.8 L490.7 332.1 L490.7 332.3 L490.8 332.6 L490.8 332.9 L490.9 333.1 L490.9 333.4 L491 333.7 L491.1 333.9 L491.1 334.2 L491.2 334.4 L491.3 334.7 L491.4 334.9 L491.5 335.2 L491.6 335.4 L491.7 335.7 L491.8 335.9 L491.9 336.1 L492 336.3 L492.1 336.6 L492.2 336.8 L492.3 337 L492.4 337.2 L492.6 337.4 L492.7 337.7 L492.8 337.9 L493 338.1 L493.1 338.3 L493.2 338.5 L493.4 338.6 L493.5 338.8 L493.7 339 L493.8 339.2 L494 339.4 L494.2 339.5 L494.3 339.7 L494.5 339.9 L494.7 340 L494.8 340.2 L495 340.3 L495.2 340.5 L495.4 340.6 L495.6 340.7 L495.8 340.9 L495.9 341 L496.1 341.1 L496.3 341.2"/>
<ellipse cx="525.4" cy="384.7" rx="12.9" ry="17.5" transform="rotate(22 525.4 384.7)"/>
<path d="M522.2 399.5 L521.3 398.9 L520.6 398.2 L519.9 397.4 L519.3 396.5 L518.8 395.5 L518.3 394.4 L518 393.2 L517.8 391.9 L517.7 390.6 L517.7 389.2 L517.8 387.8 L518 386.4 L518.3 384.9 L518.8 383.5 L519.3 382.1 L519.9 380.8 L520.6 379.5 L521.3 378.2 L522.2 377 L523.1 376 L524 375 L525 374.1 L526.1 373.3 L527.1 372.7 L528.2 372.2 L529.3 371.8 L530.3 371.5 L531.4 371.4 L532.4 371.5 L533.4 371.7"/>
<path d="M533.2 369.1 L509 355.2"/>
<path d="M517.6 400.3 L493.4 386.4"/>
<path d="M509 355.2 L508.8 355.1 L508.6 355 L508.4 354.8 L508.2 354.8 L508 354.7 L507.8 354.6 L507.5 354.5 L507.3 354.4 L507.1 354.3 L506.9 354.3 L506.7 354.2 L506.5 354.2 L506.2 354.1 L506 354.1 L505.8 354 L505.6 354 L505.4 354 L505.1 353.9 L504.9 353.9 L504.7 353.9 L504.4 353.9 L504.2 353.9 L504 353.9 L503.7 353.9 L503.5 353.9 L503.3 353.9 L503 353.9 L502.8 353.9 L502.6 354 L502.3 354 L502.1 354.1 L501.8 354.1 L501.6 354.1 L501.4 354.2 L501.1 354.3 L500.9 354.3 L500.7 354.4 L500.4 354.5 L500.2 354.6 L499.9 354.6 L499.7 354.7 L499.5 354.8 L499.2 354.9 L499 355 L498.8 355.1 L498.5 355.3 L498.3 355.4 L498.1 355.5 L497.8 355.6 L497.6 355.8 L497.4 355.9 L497.2 356.1 L496.9 356.2 L496.7 356.4 L496.5 356.5 L496.3 356.7 L496 356.8 L495.8 357 L495.6 357.2 L495.4 357.4 L495.2 357.5 L495 357.7 L494.7 357.9 L494.5 358.1 L494.3 358.3 L494.1 358.5 L493.9 358.7 L493.7 358.9 L493.5 359.1 L493.3 359.3 L493.1 359.6 L492.9 359.8 L492.8 360 L492.6 360.2 L492.4 360.5 L492.2 360.7 L492 360.9 L491.9 361.2 L491.7 361.4 L491.5 361.7 L491.3 361.9 L491.2 362.2 L491 362.4 L490.9 362.7 L490.7 363 L490.6 363.2 L490.4 363.5 L490.3 363.8 L490.1 364 L490 364.3 L489.9 364.6 L489.7 364.8 L489.6 365.1 L489.5 365.4 L489.4 365.7 L489.2 366 L489.1 366.3 L489 366.5 L488.9 366.8 L488.8 367.1 L488.7 367.4 L488.6 367.7 L488.5 368 L488.4 368.3 L488.4 368.6 L488.3 368.9 L488.2 369.2 L488.1 369.4 L488.1 369.7 L488 370 L488 370.3 L487.9 370.6 L487.8 370.9 L487.8 371.2 L487.8 371.5 L487.7 371.8 L487.7 372.1 L487.7 372.4 L487.6 372.7 L487.6 373 L487.6 373.3 L487.6 373.6 L487.6 373.9 L487.6 374.2 L487.6 374.4 L487.6 374.7 L487.6 375 L487.6 375.3 L487.6 375.6 L487.6 375.9 L487.6 376.1 L487.7 376.4 L487.7 376.7 L487.7 377 L487.8 377.3 L487.8 377.5 L487.9 377.8 L487.9 378.1 L488 378.3 L488 378.6 L488.1 378.9 L488.2 379.1 L488.2 379.4 L488.3 379.6 L488.4 379.9 L488.5 380.1 L488.6 380.4 L488.7 380.6 L488.8 380.9 L488.9 381.1 L489 381.3 L489.1 381.5 L489.2 381.8 L489.3 382 L489.4 382.2 L489.5 382.4 L489.7 382.6 L489.8 382.9 L489.9 383.1 L490.1 383.3 L490.2 383.5 L490.3 383.7 L490.5 383.8 L490.6 384 L490.8 384.2 L490.9 384.4 L491.1 384.6 L491.3 384.7 L491.4 384.9 L491.6 385.1 L491.8 385.2 L491.9 385.4 L492.1 385.5 L492.3 385.7 L492.5 385.8 L492.7 385.9 L492.9 386.1 L493 386.2 L493.2 386.3 L493.4 386.4"/>
<ellipse cx="557.8" cy="352.6" rx="15" ry="21.5" transform="rotate(24 557.8 352.6)"/>
<ellipse cx="557.8" cy="352.6" rx="13.6" ry="20" transform="rotate(24 557.8 352.6)"/>
<ellipse cx="558.4" cy="353.2" rx="10.8" ry="17" transform="rotate(24 558.4 353.2)" stroke-width="2"/>
<ellipse cx="559" cy="353.6" rx="9" ry="15.3" transform="rotate(24 559 353.6)"/>
<path d="M571.7 339.1 L572.1 340.1 L572.5 341.2 L572.8 342.4 L573.1 343.6 L573.2 344.8 L573.3 346.1 L573.4 347.5 L573.3 348.8 L573.2 350.2 L573 351.6 L572.7 353 L572.3 354.3 L571.9 355.7 L571.4 357.1 L570.9 358.4 L570.2 359.7 L569.6 361 L568.8 362.2 L568 363.4 L567.2 364.6 L566.3 365.6 L565.4 366.7 L564.4 367.6 L563.4 368.5 L562.4 369.3 L561.3 370 L560.3 370.6 L559.2 371.2 L558.1 371.6 L557 372" stroke-width="1.6"/>
<ellipse cx="553.8" cy="393.9" rx="15" ry="21.5" transform="rotate(24 553.8 393.9)"/>
<ellipse cx="553.8" cy="393.9" rx="13.6" ry="20" transform="rotate(24 553.8 393.9)"/>
<ellipse cx="554.4" cy="394.5" rx="10.8" ry="17" transform="rotate(24 554.4 394.5)" stroke-width="2"/>
<ellipse cx="555" cy="394.9" rx="9" ry="15.3" transform="rotate(24 555 394.9)"/>
<path d="M567.6 380.4 L568.1 381.4 L568.5 382.5 L568.8 383.7 L569 384.9 L569.2 386.1 L569.3 387.4 L569.3 388.8 L569.3 390.1 L569.1 391.5 L568.9 392.9 L568.6 394.3 L568.3 395.6 L567.9 397 L567.4 398.4 L566.8 399.7 L566.2 401 L565.5 402.3 L564.8 403.5 L564 404.7 L563.1 405.9 L562.2 406.9 L561.3 408 L560.3 408.9 L559.3 409.8 L558.3 410.6 L557.3 411.3 L556.2 411.9 L555.1 412.5 L554 412.9 L553 413.3" stroke-width="1.6"/>
<path d="M596.5 350.2 C596.7 349.2 597 346.3 597.9 344.5 C598.9 342.7 600.3 341.1 602.2 339.4 C604.1 337.8 606.8 336 609.4 334.4 C612 332.9 615.2 331.3 618 330.1 C620.9 329 623.8 328.5 626.6 327.5 C629.5 326.6 633.8 324.9 635.3 324.4"/>
<path d="M635.3 324.4 L645.3 326.5 L663.3 332.3"/>
<path d="M663.3 332.3 C663.9 332.9 666.4 333.8 667.1 335.8 C667.9 337.9 667.5 343 667.6 344.5"/>
<path d="M667.6 344.5 C668.6 344.6 671.5 344.7 674 345.2 C676.5 345.7 679.8 346.1 682.6 347.3 C685.5 348.5 688.7 350.6 691.3 352.4 C693.8 354.2 696.3 356.3 697.7 358.1 C699.2 359.9 699.6 361.1 699.9 363.1 C700.1 365.2 699.8 367.9 699.2 370.3 C698.6 372.7 697.4 375.1 696.3 377.5 C695.2 379.9 693.5 382.8 692.7 384.7 C691.9 386.5 692.5 385.6 691.3 388.6 C690.1 391.7 687.2 397.7 685.5 403 C683.8 408.2 682.2 414.9 681.2 420.2 C680.3 425.5 679.8 429.8 679.8 434.6 C679.8 439.4 680.7 445.8 681.2 448.9 C681.7 452.1 681.7 451.2 682.6 453.6 C683.6 456.1 685.4 460.7 687 463.7 C688.5 466.7 691.3 468.2 692 471.6 C692.7 474.9 691.9 480.8 691.3 483.8 C690.7 486.8 689.6 488 688.4 489.5 C687.2 491.1 686 492.9 684.1 493.1 C682.2 493.3 678.1 491.3 676.9 491"/>
<path d="M605.1 340.9 C607.5 339.1 615.9 332.5 619.5 330.4 C623.1 328.3 625.4 328.5 626.6 328.1"/>
<path d="M596.5 350.2 C596.8 350.9 597.7 354.1 598.6 355.2 C599.6 356.4 601.7 357.7 603.7 358.8 C605.7 360 611 362.4 613.7 363.8 C616.4 365.3 621.1 368.1 623.8 369.6 C626.5 371.1 631.3 374 633.8 375.3 C636.3 376.7 640.5 378.8 642.4 379.6 C644.4 380.5 646.8 381.2 648.2 381.8 C649.5 382.4 651.4 383.8 652.5 384 C653.5 384.1 655.3 384 656.1 383.2 C656.8 382.5 657.9 378.9 658.2 378.2"/>
<path d="M658.2 378.2 L667.6 374.6 L668.3 380.4 L671.2 380.4 L676.9 378.2 L681.2 378.9 L682.6 383.2"/>
<path d="M682.6 383.2 C682.6 383.2 683.6 381.3 682.6 383.2 C681.7 385 678.8 389.6 676.9 394.4 C675 399.1 672.6 406.1 671.2 411.6 C669.7 417.1 668.9 422.4 668.3 427.4 C667.7 432.4 667.3 436.2 667.6 441.7 C667.8 447.3 668.3 455.7 669.7 460.8 C671.2 465.9 675.1 470.4 676.2 472.3"/>
<path d="M631 338.7 L646.7 331.5 L664 335.8 L665.4 338.7 L648.2 345.9 L636.7 341.6 Z"/>
<path d="M646.7 345.9 L652.5 350.2 L658.2 349.5 L666.8 344.5"/>
<path d="M659.7 345.9 L658.2 349.5"/>
<path d="M648.2 345.2 L665.4 337.3" stroke-width="2.2"/>
<path d="M644.6 357.4 L648.9 360.3"/>
<ellipse cx="650.3" cy="381.1" rx="2.6" ry="1.6" transform="rotate(20 650.3 381.1)" stroke-width="2.2"/>
<path d="M636.7 377.5 C636.8 378.4 637.3 384.3 637.4 384.7 C637.5 385 637.5 378.7 637.4 380 C637.3 381.3 637 389.6 636.7 394.4 C636.4 399.1 635.6 410.2 635.3 415.9 C634.9 421.6 634.2 433.8 633.8 437.4 C633.4 441.1 633.2 441.7 632.4 443.2 C631.6 444.7 629.4 447.6 628.1 448.9 C626.7 450.3 623.1 452.7 622.3 453.2"/>
<path d="M622.3 453.2 L609.4 460.4 L606.5 462.5"/>
<path d="M646.7 381.8 C646.7 381.6 646.8 378.7 646.7 380 C646.7 381.3 646.2 392.5 646 394.4 C645.9 396.2 645.4 398.2 645.3 398.7"/>
<path d="M645.3 398.7 L648.9 403 L646.7 410.2 L644.6 413"/>
<path d="M644.6 413 C644.5 415.9 644.1 429.8 643.9 434.6 C643.7 439.4 643.7 446.2 643.2 448.9 C642.6 451.6 641 453.3 639.6 454.7 C638.1 456 633.3 458.4 632.4 459"/>
<path d="M632.4 459 L623.8 454.7 L622.3 453.2"/>
<path d="M658.2 378.9 C658.4 379.5 659.5 382.7 659.7 383.2 C659.9 383.8 660.1 382.1 659.7 383.2 C659.2 384.3 656.7 388.8 656.1 391.5 C655.5 394.1 655.3 399.9 655.4 403 C655.5 406 656 411.4 656.8 414.5 C657.6 417.5 660 422.9 661.1 426 C662.3 429 664.8 435.9 665.4 437.4"/>
<path d="M643.9 435.3 L665.4 438.2"/>
<path d="M665.4 437.4 C664.5 437.9 661.6 439.1 659.7 440.3 C657.8 441.5 655.5 442.9 653.9 444.6 C652.4 446.3 650.9 448.4 650.3 450.4 C649.7 452.3 649.9 454.8 650.3 456.1 C650.8 457.4 651.9 458 653.2 458.3 C654.5 458.5 657.4 457.7 658.2 457.5"/>
<path d="M659.7 440.3 C659.4 441.7 659 446.5 658.2 448.9 C657.5 451.3 656.2 453.7 655.4 454.7 C654.5 455.6 653.6 454.7 653.2 454.7"/>
<path d="M606.5 462.9 C606.1 463.2 605.1 463.8 603.7 464.4 C602.2 465 599.8 465.6 597.9 466.5 C596 467.5 593.7 468.6 592.2 470.1 C590.6 471.7 589.4 473.8 588.6 475.9 C587.8 477.9 586.8 480.5 587.2 482.3 C587.5 484.1 588.7 485.2 590.7 486.6 C592.8 488.1 597.9 490.2 599.4 491"/>
<path d="M599.4 491 L613.7 499.6 L628.1 507.5 L638.8 512.5 L648.2 508.2 L658.2 505.3 L665.4 502.4 L671.2 496.7 L676.9 491"/>
<path d="M671.2 462.9 L662.5 466.5 L653.9 468.7 L651.8 470.8 L662.5 475.9 L662.5 482.3 L656.8 485.2 L648.2 487.4"/>
<path d="M631 459.4 L631.7 465.1 L620.9 470.1 L618.7 466.5"/>
<path d="M618 468.7 L614.4 475.9 L612.3 477.3 L620.9 480.9 L632.4 487.4 L637.4 485.9"/>
<path d="M620.9 480.2 L656.8 460.8 L659 458.6"/>
<path d="M656.8 461.5 L650.3 470.1 L646.7 476.6 L644.6 479.5"/>
<path d="M606.8 463.4 L618.3 467.7 L617.3 473 L607.7 469.1 Z" stroke-width="1.9"/>
<path d="M607.1 465.3 L618 469.4" stroke-width="1.9"/>
<path d="M607.4 467.2 L617.7 471.2" stroke-width="1.9"/>
<path d="M637.4 479.5 L648.2 484.1 L647 490.2 L637.4 485.9 Z" stroke-width="1.9"/>
<path d="M637.4 481.6 L647.8 486.1" stroke-width="1.9"/>
<path d="M637.4 483.7 L647.4 488.1" stroke-width="1.9"/>
<path d="M606.8 463.4 L610.1 461.5 L618.7 466.5"/>
<path d="M637.4 479.5 L640.3 478.3 L648.5 483.5"/>
<path d="M606.5 232.8 L606.5 251.2"/>
<path d="M606.5 254.2 L606.5 258"/>
<path d="M606.5 261 L606.5 279.4"/>
<path d="M606.5 282.3 L606.5 285.3"/>
<path d="M606.5 289 L606.5 308.7"/>
<path d="M606.5 311.8 L606.5 337"/>
<path d="M606.5 359.3 L606.5 367"/>
<path d="M606.5 370 L606.5 373"/>
<path d="M606.5 376.8 L606.5 394.3"/>
<path d="M606.5 397 L606.5 400"/>
<path d="M606.5 403 L606.5 423.4"/>
<path d="M606.5 423.4 L614.5 426.6"/>
<path d="M617.4 428.3 L633.5 437.2"/>
<path d="M606.5 318 L624.6 327.8"/>
<path d="M658.1 69.3 C658.3 68.8 659.4 68.6 659.5 69.3 C659.6 70.1 658.8 77.5 659.1 78.7 C659.3 79.8 661.7 82.5 662.4 83 C663.1 83.5 666.8 84.1 667.4 84.4 C668 84.7 669.5 85.8 669.5 86.6 C669.6 87.3 668.4 93.3 668.1 93.7 C667.8 94.2 666.4 91.6 666 91.6 C665.5 91.6 662.8 92.8 662.4 93.7 C661.9 94.7 660.5 101.1 660.2 103.1 C659.9 105.1 659.2 115 659.1 117.4 C658.9 119.8 658.8 130.3 658.8 131.8 C658.7 133.3 658.7 135 658.8 135.7 C658.8 136.5 659 140.4 659.5 140.8 C660 141.1 663.9 139.9 664.5 140.1 C665.1 140.2 666.5 141.5 666.7 142.2 C666.8 142.9 666.2 147.5 666 147.9 C665.7 148.4 663.8 147 663.1 147.2 C662.4 147.5 658.1 150 657.3 150.8 C656.6 151.7 654.1 156.1 653.7 157.3 C653.4 158.4 652.9 163.4 652.7 164.5 C652.6 165.5 652.6 169.7 652.3 170.2 C652 170.7 649.7 170.6 649.4 170.2 C649.1 169.8 648.9 166 648.7 165.9 C648.5 165.8 647.9 168.4 647.3 168.8 C646.7 169.1 642.3 170.6 641.5 170.2 C640.8 169.8 639.1 165.8 638.7 164.5 C638.2 163.1 636.2 156.1 635.8 154.4 C635.4 152.7 634.5 145.8 634.4 144.4 C634.2 142.9 634 137.6 633.6 136.9 C633.3 136.2 630.6 137 630.3 136.5 C630.1 135.9 630.3 130.7 630.3 130 C630.3 129.3 630.2 127.8 630.3 127.5 C630.5 127.2 631.9 127.4 632.2 126.8 C632.5 126.2 634 121.7 634.4 120.3 C634.7 118.9 636.2 111.8 636.5 110.3 C636.9 108.7 638 102.7 638.7 101.6 C639.3 100.6 643.5 98.1 644.4 97.3 C645.3 96.6 648.6 93.4 649.4 93 C650.3 92.7 653.9 93.3 654.5 93 C655.1 92.8 656.5 90.7 656.6 90.2 C656.7 89.6 656.7 86.8 655.9 86.6 C655.1 86.3 647.9 87.8 647.3 87.3 C646.6 86.8 647.5 81.7 648 80.8 C648.5 80 652.2 77.8 652.7 77.2 C653.3 76.6 654.1 73.8 654.5 73.6 C654.8 73.5 656.3 76.2 656.6 75.8 C656.9 75.4 657.8 69.9 658.1 69.3 Z"/>
<path d="M645.1 130.4 C646.7 129.5 649.6 128.3 650.9 128.2 C652.1 128.1 654.2 128.9 654.5 129.6 C654.8 130.4 653.8 133.3 653 134 C652.3 134.6 650.1 134.1 648.7 134.7 C647.4 135.2 644.3 137 643 137.9 C641.6 138.8 639.4 141.1 638.7 141.5 C637.9 141.9 637.5 141.2 637.2 140.8 C637 140.4 636.7 139.5 636.9 138.6 C637.2 137.8 638.3 135.4 639.4 134.3 C640.5 133.2 643.6 131.2 645.1 130.4 Z"/>
<path d="M698.7 92.3 C699 91.8 699.6 91.1 699.7 92.3 C699.8 93.6 699.2 105.9 699.4 107.4 C699.6 108.9 702.2 109.4 702.6 110.3 C702.9 111.1 703.4 115.9 703.3 117.4 C703.2 119 701.4 127.3 701.1 128.9 C700.8 130.6 699.5 136.7 699.7 137.5 C699.9 138.4 702.9 139.1 703.3 139.6 C703.6 140.2 704.1 143.8 704 144.4 C703.9 144.9 702.3 146.5 701.8 146.5 C701.4 146.6 698.6 144.7 698.3 145.1 C697.9 145.5 697.5 150.4 697.5 151.5 C697.5 152.7 698.1 157.5 698.3 158.7 C698.4 159.9 699.8 164.7 699.7 165.9 C699.6 167.1 698 172 697.5 173.1 C697.1 174.2 695.1 177.6 694.7 178.8 C694.3 180 692.7 186.2 692.5 187.4 C692.3 188.6 692.7 192.7 692.5 193.2 C692.3 193.7 690.6 193.4 690.4 193.2 C690.1 192.9 690.1 190.3 689.6 190.3 C689.2 190.3 685.5 192.8 684.6 193.2 C683.7 193.6 679.7 195.7 678.9 195.3 C678.1 195 675.7 189.8 675.3 188.9 C674.9 188 674.1 185.2 673.8 184.6 C673.5 184 672 182.2 671.7 181.7 C671.4 181.2 670.5 178.6 670.5 178.1 C670.6 177.6 672.3 177 672.4 176 C672.5 174.9 671.7 167.9 671.7 165.9 C671.7 163.9 671.9 153.6 672 151.5 C672.1 149.4 672.9 141.9 673.1 140.8 C673.3 139.6 674.5 138.2 674.6 137.5 C674.6 136.7 673.8 132.7 673.8 131.7 C673.9 130.7 675 126 675.3 125.3 C675.6 124.6 677 124.2 677.4 123.2 C677.9 122.2 679.8 114.7 680.3 113.1 C680.8 111.6 682.6 105.4 683.2 104.5 C683.8 103.7 686.9 103.4 687.5 103.1 C688.1 102.8 690.3 101.3 690.4 100.9 C690.5 100.5 688.6 98.5 688.6 98.1 C688.6 97.6 689.9 95.4 690.4 95.2 C690.8 94.9 693.5 94.9 694 95.2 C694.4 95.4 695.7 98.3 696.1 98.1 C696.5 97.8 698.4 92.8 698.7 92.3 Z"/>
<path d="M676 124.6 L678.6 123.9 L677.4 131.8 L674.6 133.2"/>
<path d="M689.6 106.7 L694.7 103.8" stroke-width="2.4"/>
<path d="M687.5 120.3 L693.2 118.2" stroke-width="2.4"/>
<path d="M687.5 123.9 L695.4 121.7" stroke-width="2.4"/>
<path d="M686.8 127.5 L694.7 124.6" stroke-width="2.4"/>
<path d="M687.5 131.8 L693.2 128.9" stroke-width="2.4"/>
<path d="M681.7 149.4 L688.2 146.5" stroke-width="2.4"/>
<path d="M683.9 163 L690.4 160.9" stroke-width="2.4"/>
<path d="M683.9 168.8 L691.8 165.2" stroke-width="2.4"/>
<path d="M683.2 174.5 L690.4 171.6" stroke-width="2.4"/>
<path d="M685.3 187.4 L689.6 184.6" stroke-width="2.4"/>
<ellipse cx="692.1" cy="97.6" rx="2.4" ry="1.6" transform="rotate(-20 692.1 97.6)" stroke-width="2"/>
<path d="M716.2 74.4 C716.9 74.1 718.4 72.8 720.5 72.6 C722.7 72.5 726.4 72.9 729.1 73.6 C731.9 74.4 735.6 75.9 737 77.2 C738.5 78.5 737.6 80.8 737.7 81.5" stroke-width="2.4"/>
<path d="M717.6 78.7 C718.8 78.4 722.7 76.8 724.8 77.2 C727 77.7 729.1 80.2 730.6 81.5 C732 82.9 733 84.5 733.4 85.1" stroke-width="2.4"/>
<path d="M716.2 74.4 C716.4 75.2 717.2 78.2 717.6 79.4 C718.1 80.6 717.6 80.9 719.1 81.5 C720.5 82.1 724.3 83 726.3 83 C728.2 83 729.9 81.8 730.6 81.5" stroke-width="2.4"/>
<path d="M725.9 106.5 L733.1 109.4 L737.4 113.7 L738.8 116.5 L747.4 119.4 L746.7 121.6 L744.6 120.8 L745.3 128 L748.2 130.9"/>
<path d="M725.9 107.2 L731.6 111.5" stroke-width="3"/>
<path d="M738.8 116.8 L747.4 120.1" stroke-width="3"/>
<path d="M730.9 115.8 L735.2 116.5 L735.2 120.1 L730.9 120.1 Z" stroke-width="2"/>
<path d="M726.6 115.1 C726.4 115.8 725.4 119.9 724.5 120.8 C723.5 121.8 719.9 121.3 718.7 123 C717.5 124.7 715.4 131.8 714.4 135.2 C713.4 138.6 710.9 148.4 710.1 152.4 C709.3 156.5 707.7 167.5 707.2 169.7 C706.8 171.8 706.7 169.6 706.5 170.7 C706.3 171.9 705.8 176.7 705.8 179.4 C705.8 182 706.1 190.4 706.5 193.7 C706.9 197.1 708.8 205.6 709.4 208.1 C710 210.5 710.8 213.5 711.5 214.5 C712.3 215.6 714.7 216.7 715.8 217.4 C717 218.1 720.4 220.2 721.6 220.3 C722.8 220.4 724.8 218.5 725.9 218.1 C727 217.7 730.3 217.5 730.9 216.7 C731.6 215.9 731.6 211.6 731.6 211"/>
<path d="M728.8 115.8 C728.6 116.5 728.5 120.4 727.6 121.6 C726.7 122.7 722.2 123.9 720.9 125.9 C719.6 127.8 717.6 134.8 716.6 138.1 C715.6 141.3 713.1 150.2 712.3 153.9 C711.4 157.6 709.8 167.7 709.4 169.7 C709 171.6 708.8 169.6 708.7 170.7 C708.5 171.9 708.1 176.7 708.1 179.4 C708.1 182 708.3 190.4 708.7 193.7 C709.1 197.1 711 205.7 711.5 208.1 C712.1 210.4 713.4 213.2 713.7 213.8"/>
<path d="M722.3 129.5 C722.4 130.8 723.4 137.8 723 141 C722.6 144.1 719.6 152.7 718.7 156.7 C717.9 160.8 716.3 173.1 715.8 175.8 C715.3 178.4 714.5 177.3 714.4 179.4 C714.3 181.5 714.8 189.9 715.1 193.7 C715.5 197.6 717 210.2 717.3 212.4"/>
<path d="M722.3 129.5 L736 122.3 L748.2 130.9 L723 141"/>
<path d="M748.2 130.9 C748.2 131.8 749 137.4 748.9 139.5 C748.7 141.7 747.2 149.9 746.7 152.4 C746.2 155 744.2 164 743.8 165.4 C743.5 166.7 743.1 164.3 743.1 165.7 C743.2 167.1 744.1 176.8 744.3 179.4 C744.5 181.9 745.3 189.6 745.3 191.6 C745.2 193.6 744.6 198.3 743.8 199.5 C743.1 200.6 739.3 202.3 738.1 203.1 C736.9 203.8 733.7 205.6 731.6 206.6 C729.6 207.6 719.1 212.3 717.3 213.1 C715.4 213.9 713.4 214.4 713 214.5"/>
<path d="M709.4 177.2 L715.1 179.4 L743.1 165.7"/>
<path d="M710.1 178.6 L715.8 180.8 L743.4 167.6"/>
<path d="M792.7 144.5 C793.3 144.3 796.5 145.5 797 146 C797.5 146.5 797.8 149.7 798.4 150.3 C799 150.8 803.6 151.5 804.2 152.4 C804.7 153.3 804.9 160 804.9 161.1 C804.8 162.1 803.4 164.2 803.4 165 C803.4 165.8 805 169.9 804.9 170.7 C804.8 171.6 802.5 174 802 175.1 C801.5 176.1 799.6 182.1 799.1 183.7 C798.7 185.2 797.2 192.2 797 193.7 C796.7 195.3 796.2 200.8 796.3 202.3 C796.3 203.9 797.3 211.3 797.7 212.4 C798.1 213.5 801.1 214.4 801.3 215.3 C801.5 216.1 799.9 221.5 799.9 222.4 C799.8 223.4 800.7 226.3 800.6 226.7 C800.4 227.2 798.3 227.3 797.7 228.2 C797.1 229 793.9 235.3 793.4 236.8 C792.9 238.3 792.3 245.2 792 246.5 C791.6 247.8 789.7 251.8 789.1 252.2 C788.5 252.7 785.4 251.4 784.8 251.5 C784.2 251.6 782.6 253.7 781.9 253.7 C781.2 253.7 777 252 776.2 251.5 C775.3 251 772.8 248.8 771.8 247.9 C770.9 247 765.5 241.9 764.7 240.7 C763.8 239.6 762.2 235.2 761.8 233.9 C761.4 232.6 760.3 227.5 760.1 225.3 C759.9 223.2 759.6 209.8 759.6 208.1 C759.7 206.4 760.2 206.6 760.4 205.2 C760.5 203.8 760.8 193.2 761.1 190.8 C761.3 188.5 762.9 178.2 763.2 176.5 C763.6 174.8 764.8 171.8 765.4 170.7 C766 169.7 769.5 165.1 770.4 163.9 C771.3 162.8 775 157.7 776.2 156.7 C777.4 155.8 783.9 153.1 784.8 152.4 C785.6 151.8 785.8 149.1 786.2 148.8 C786.6 148.5 789.3 149.2 789.8 148.8 C790.3 148.5 792.1 144.8 792.7 144.5 Z"/>
<path d="M787.6 152.4 C786.6 153.1 780.6 156.5 779 158.2 C777.4 159.9 775 165.3 774 166.8 C773 168.3 771.3 169.3 770.4 170.7 C769.5 172.2 766.9 176.7 766.1 179.4 C765.4 182 764.3 190.9 764 193.7 C763.7 196.6 763.6 202.6 763.5 203.8"/>
<path d="M760.4 205.2 L763.5 203.8 L767.5 204.5 L768.3 207.4"/>
<path d="M790.5 153.9 C789.5 154.5 783.5 157.9 781.9 159.6 C780.3 161.3 777.7 167.1 776.9 168.2 C776 169.4 775.5 168 774.7 169.3 C774 170.6 771.2 176.5 770.4 179.4 C769.7 182.2 768.6 190.7 768.3 193.7 C767.9 196.7 767.5 203.5 767.5 205.2 C767.6 206.9 768.7 206.1 768.7 208.1 C768.7 210.1 767.6 219.6 767.5 222.4 C767.5 225.3 767.8 229.8 768.3 232.5 C768.8 235.2 771.3 244.5 771.8 245.8 C772.4 247.1 772.6 243.1 773.3 243.6 C774 244.1 777.1 249.3 777.6 250.1"/>
<path d="M764.7 208.1 C764.6 209.8 763.9 219.6 764 222.4 C764 225.3 764.8 230.1 765.4 232.5 C766 234.8 768.4 241.2 769 242.5 C769.6 243.8 769.6 242.7 770.4 243.6 C771.3 244.6 775.5 250 776.2 250.8"/>
<ellipse cx="785.5" cy="180.5" rx="3.3" ry="5.6" transform="rotate(25 785.5 180.5)"/>
<ellipse cx="783" cy="225.3" rx="3.7" ry="6.2" transform="rotate(32 783 225.3)"/>
<ellipse cx="783.5" cy="225.6" rx="2.5" ry="4.8" transform="rotate(32 783.5 225.6)"/>
<path d="M799.4 152.2 L804.2 155.3" stroke-width="2.8"/>
<path d="M798.7 159.9 L804.9 161.8" stroke-width="2.8"/>
<path d="M799.1 151.7 L798.4 160.3"/>
<ellipse cx="795.3" cy="232.8" rx="1.4" ry="3.2" transform="rotate(40 795.3 232.8)" stroke-width="2.5"/>
<path d="M737.4 102.9 L747.4 104.3 L753.9 102.9 L756.1 98.6 L754.6 96.4 L760.4 95.7 L768.3 100.7 L772.6 101.5 L773.3 108.6 L771.1 110.1 L768.3 106.5 L766.1 102.9 L764.7 109.4 L760.4 110.1 L761.1 112.9 L756.1 114.4 L753.2 113.7"/>
<path d="M737.4 102.9 L743.1 107.9 L753.2 113.7 L764.7 120.1 L774.7 123.7 L781.9 120.8 L784.1 118 L784.8 112.2 L789.1 110.1 L789.8 113.7 L800.6 118 L804.9 120.8 L806 128 L799.1 123.7 L794.8 121.6 L792 125.9 L789.1 129.5 L781.9 130.2 L776.2 127.3"/>
<path d="M740.3 104.5 L750.3 110.5 L764.7 119.1 L776.2 124.7"/>
<path d="M753.9 111.1 L758.9 112.2" stroke-width="2.2"/>
<path d="M777.6 126.9 L789.1 129.2" stroke-width="2.2"/>
<path d="M743.8 105.3 L748.2 108.2" stroke-width="2.2"/>
<path d="M814.2 129.5 C814.2 128.5 814.8 127.4 816.4 127.3 C817.9 127.2 821.6 127.8 823.5 128.7 C825.5 129.7 828.1 132.1 827.9 133.1 C827.6 134 824 134.5 822.1 134.5 C820.2 134.5 817.7 133.9 816.4 133.1 C815 132.2 814.2 130.4 814.2 129.5 Z" stroke-width="2.4"/>
<path d="M819.2 130.9 L825 132.6" stroke-width="2.8"/>
<path d="M829.5 124 L830.5 129 L836 133 L829 133.5"/>
<path d="M705.8 255.8 C706 254.6 706.4 253.9 707.9 253.7 C709.5 253.5 715 254 717.3 254.4 C719.6 254.8 723.9 256.6 725.2 256.5 C726.5 256.4 726.8 253.6 727 253.7 C727.3 253.8 728 256.4 727.3 257.3 C726.7 258.1 723.7 259.1 722.3 260.1 C720.9 261.2 718 264.4 716.6 265.2 C715.1 265.9 712.9 266.2 711.5 265.9 C710.2 265.6 707.3 264.3 706.5 263 C705.7 261.7 705.6 257.1 705.8 255.8 Z" stroke-width="2.4"/>
<ellipse cx="711.8" cy="262.3" rx="4.2" ry="2.4" transform="rotate(-5 711.8 262.3)" stroke-width="2.1"/>
<path d="M728.8 266.6 L730.9 263.7 L734.5 265.2 L739.5 265.9 L741 262.3 L743.1 258 L747.4 256.5 L753.2 256.5 L756.1 252.2 L751.7 248.6 L752.5 246.5 L764.7 252.2 L766.8 256.5 L766.1 261.6 L761.8 263.7 L755.3 265.9 L750.3 267.3 L747.4 270.9 L746.7 275.2 L750.3 279.5 L757.5 282.4 L764.7 281.7 L770.4 278.1 L771.8 274.5 L776.2 273.1 L781.9 273.8 L784.8 269.5 L785.5 264.4 L797 270.2 L797.7 275.2 L794.1 276.6 L792.7 281.7 L789.1 282.4 L784.8 281 L781.9 283.8 L776.2 286 L777.6 289.6 L774.7 292.4 L771.1 291.7 L771.8 286.7 L769 285.3 L763.2 286.7 L760.4 290.3 L750.3 284.5 L737.4 276.6 L739.5 270.9 L740.3 267.3 L736 268 L731.6 269.5 Z"/>
<path d="M751.7 248.6 L764.7 254.4"/>
<path d="M785.5 265.9 L797 271.6"/>
<path d="M748.2 262.3 L753.2 265.9" stroke-width="3"/>
<path d="M748.9 265.9 L751.7 263.7" stroke-width="3"/>
<path d="M773.3 276.6 L776.2 281" stroke-width="3"/>
<path d="M780.5 280.2 L784.1 281.7" stroke-width="3"/>
<ellipse cx="809.3" cy="303.2" rx="5.4" ry="2.9" transform="rotate(0 809.3 303.2)" stroke-width="2.9"/>
<path d="M809.3 293.8 C809.1 294.5 807.8 297.1 807.9 298.1 C808 299.2 809.7 299.9 810.1 300.3"/>
<path d="M818.7 291 C818.7 291.7 818.1 295.2 818.7 296.7 C819.2 298.2 822 301.2 823 302.4 C823.9 303.7 826.2 305.4 825.8 306 C825.5 306.6 821.6 306.9 820.1 307 C818.6 307.1 815.1 306.8 814.4 306.7" stroke-width="2.4"/>
<path d="M847.4 178.6 C847.6 178.2 849.4 177.7 849.5 178.6 C849.7 179.5 849.2 188.1 849.1 189.4 C849 190.6 848.5 192.9 848.8 193.7 C849.1 194.4 852.2 197.1 852.4 198 C852.7 198.8 851.9 202.5 851.7 203.7 C851.5 204.9 849.9 210.8 849.5 212.3 C849.2 213.9 847.3 221.4 847.4 222.4 C847.4 223.4 850.1 223.9 850.3 224.5 C850.4 225.1 849.8 228.9 849.5 229.6 C849.2 230.2 846.8 231.2 846.7 232.4 C846.5 233.6 847.9 242.3 848.1 243.9 C848.3 245.6 849.5 251.5 849.5 252.5 C849.6 253.6 849.4 255.4 848.8 256.5 C848.3 257.5 843.6 263.5 843.1 265.1 C842.5 266.7 842.5 274.5 842.4 275.9 C842.2 277.2 841.4 281.2 840.9 281.6 C840.4 282 837.2 281.1 836.6 280.9 C836.1 280.7 835.1 278.8 834.5 278.7 C833.8 278.7 829.4 280.2 828.7 280.2 C828.1 280.2 827 279.8 826.6 278.7 C826.1 277.7 823.7 269 823 268 C822.3 267 818.5 267 817.9 266.5 C817.4 266.1 816.2 262.8 816.5 262.2 C816.9 261.6 821.8 260.8 822.3 259.4 C822.7 257.9 821.6 246.4 821.5 245 C821.5 243.6 821.1 243.8 821.3 242.5 C821.4 241.2 822.7 231.5 823 229.6 C823.3 227.7 825.1 220.6 825.1 219.5 C825.2 218.4 824.2 217.1 823.7 216.6 C823.2 216.2 819.6 214.2 819.4 213.8 C819.2 213.3 821.3 211.4 821.5 210.9 C821.8 210.4 821.7 208.2 822.3 208 C822.8 207.8 827.3 209.7 828 208.7 C828.7 207.8 829.7 198.2 830.2 196.5 C830.6 194.9 832.1 190.3 833 189.4 C833.9 188.4 839.8 185.6 840.9 185.1 C842.1 184.5 846.1 183.4 846.7 182.9 C847.2 182.4 847.1 178.9 847.4 178.6 Z"/>
<path d="M839.5 192.2 L844.5 189.4" stroke-width="2.4"/>
<path d="M835.9 205.9 L843.1 203.7" stroke-width="2.4"/>
<path d="M835.9 211.6 L845.2 208" stroke-width="2.4"/>
<path d="M835.2 218.1 L842.4 215.2" stroke-width="2.4"/>
<path d="M830.9 235.3 L838.1 231.7" stroke-width="2.4"/>
<path d="M833 249 L840.2 246.1" stroke-width="2.4"/>
<path d="M832.3 255.1 L842.4 250.7" stroke-width="2.4"/>
<path d="M831.6 260.8 L839.5 257.9" stroke-width="2.4"/>
<path d="M833.7 272.3 L838.1 270.8" stroke-width="2.4"/>
<path d="M835.9 277.3 C836.5 276.7 838.4 275.8 839.5 275.9 C840.6 276 842.1 277.1 842.4 278 C842.6 279 841.8 280.9 840.9 281.6 C840.1 282.3 838.2 282.4 837.3 282 C836.4 281.7 835.9 280.3 835.6 279.5 C835.4 278.7 835.3 277.9 835.9 277.3 Z"/>
<path d="M882.1 198.7 C882.4 198.3 883.5 197.8 883.6 198.7 C883.7 199.6 883.2 208.3 883.3 209.5 C883.4 210.7 884.4 212.9 884.7 213.1 C885.1 213.2 887.1 211.7 887.6 211.6 C888.1 211.5 890.2 211 890.5 211.6 C890.7 212.3 891.1 218.6 890.8 219.5 C890.5 220.5 887.4 222.1 886.9 223.1 C886.4 224.1 885.1 229.9 884.7 231 C884.4 232.1 882.7 235.8 882.6 236.7 C882.4 237.7 883 241.4 883 242.5 C883 243.5 883 247.5 883 249.3 C883 251.1 882.9 262.2 883 263.7 C883.1 265.2 884.3 266.9 884.7 267.3 C885.1 267.6 887.4 267.3 887.6 268 C887.8 268.6 887.3 274.3 886.9 275.2 C886.5 276.1 883.3 277.9 882.6 278.7 C881.8 279.6 878 283.5 877.5 285.2 C877.1 286.9 877.7 298.3 877.5 299.6 C877.4 300.8 875.6 300.6 875.4 300.3 C875.1 299.9 875 295.6 874.7 295.3 C874.4 294.9 872.2 295.7 871.8 296 C871.4 296.3 871.2 298.5 870.4 298.8 C869.5 299.2 862.7 301.1 861.7 300.3 C860.8 299.5 859.4 291.4 858.9 289.5 C858.4 287.7 856.3 280.1 856 278 C855.7 275.9 855.8 265.8 855.3 264.4 C854.8 263 850.6 262.1 850.3 261.5 C849.9 260.9 850.6 257.7 851 257.2 C851.4 256.7 854.7 256.1 855.3 255.8 C855.9 255.4 858 253.6 858.2 252.9 C858.3 252.2 857 248.5 857.2 246.8 C857.3 245.1 859.8 234.6 860.3 232.4 C860.8 230.3 862.6 222.6 863.2 221 C863.7 219.3 866.1 213.4 866.8 212.3 C867.5 211.3 871 208.7 871.8 208 C872.6 207.4 875.4 204.8 876.1 204.4 C876.8 204.1 879.9 204.2 880.4 203.7 C880.9 203.2 881.9 199.1 882.1 198.7 Z"/>
</g>
</svg>
</body></html>
